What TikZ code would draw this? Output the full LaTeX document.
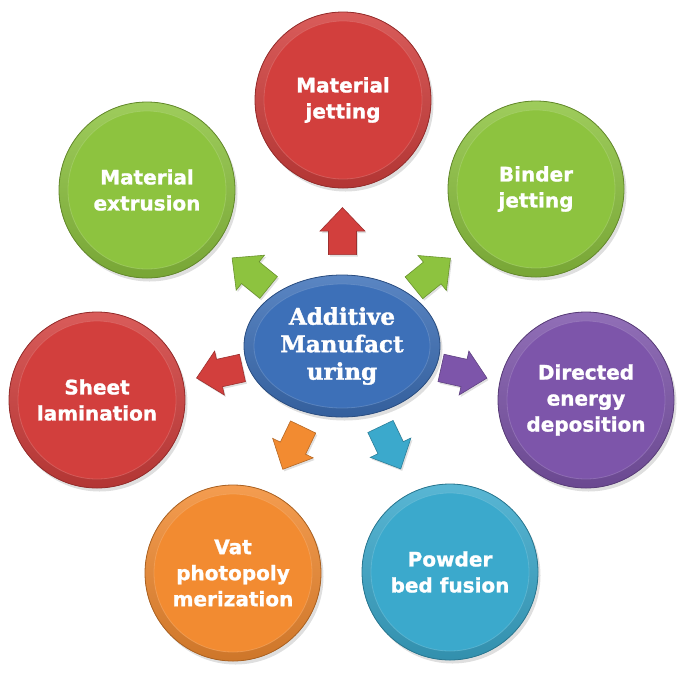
\documentclass[tikz,border=0pt]{standalone}
\usepackage{fontspec}
\newfontfamily\btnfont{DejaVu Sans}[BoldFeatures={FakeBold=1.2}]
\newfontfamily\ctrfont{DejaVu Serif}[BoldFeatures={FakeBold=1.5}]
\usetikzlibrary{shapes.geometric,shadows,calc}
\definecolor{cred}{HTML}{D23F3D}
\definecolor{cgreen}{HTML}{8DC33F}
\definecolor{cpurple}{HTML}{7D55AA}
\definecolor{cblue}{HTML}{3BA9CC}
\definecolor{corange}{HTML}{F28B31}
\definecolor{cnavy}{HTML}{3D70B8}
\tikzset{
  btn/.style={circle, minimum size=176pt, inner sep=0pt, align=center, text=white,
    font=\btnfont\bfseries\fontsize{20}{26}\selectfont,
    fill=#1!85!black, draw=#1!70!black, line width=0.8pt,
    drop shadow={opacity=0.25, shadow xshift=2.5pt, shadow yshift=-3.5pt},
    path picture={
      \shade[top color=#1!85!white, bottom color=#1!85!black]
        (path picture bounding box.center) circle (88pt);
      \fill[#1] (path picture bounding box.center) circle (79pt);
      \draw[#1!70!white, opacity=0.5, line width=0.8pt]
        (path picture bounding box.center) circle (79pt);
    }},
  hub/.style={ellipse, minimum width=196pt, minimum height=142pt, inner sep=0pt,
    align=center, text=white,
    font=\ctrfont\bfseries\fontsize{23}{27.5}\selectfont,
    fill=#1!85!black, draw=#1!70!black, line width=0.8pt,
    drop shadow={opacity=0.25, shadow xshift=2.5pt, shadow yshift=-3.5pt},
    path picture={
      \shade[top color=#1!85!white, bottom color=#1!85!black]
        (path picture bounding box.center) ellipse (98pt and 71pt);
      \fill[#1] (path picture bounding box.center) ellipse (88pt and 62pt);
      \draw[#1!70!white, opacity=0.5, line width=0.8pt]
        (path picture bounding box.center) ellipse (88pt and 62pt);
    }},
  pics/barrow/.style={code={
    \filldraw[fill=#1, draw=#1!75!black, line width=0.6pt,
      drop shadow={opacity=0.25, shadow xshift=1.5pt, shadow yshift=-2pt}]
      (-23.5,-14) -- (0,-14) -- (0,-22.5) -- (23.5,0) -- (0,22.5) -- (0,14)
      -- (-23.5,14) -- cycle;
  }},
}
\begin{document}
\begin{tikzpicture}[x=1pt, y=-1pt]
\useasboundingbox (0,0) rectangle (685,673);
\node[hub=cnavy] (am) at (342,346) {Additive\\Manufact\\uring};
\node[btn=cred]    (mj)  at (343,100) {Material\\jetting};
\node[btn=cgreen]  (bj)  at (536,189) {Binder\\jetting};
\node[btn=cgreen]  (me)  at (147,190) {Material\\extrusion};
\node[btn=cred]    (sl)  at (97,400)  {Sheet\\lamination};
\node[btn=cpurple] (de)  at (586,400) {Directed\\energy\\deposition};
\node[btn=corange] (vat) at (233,573) {Vat\\photopoly\\merization};
\node[btn=cblue]   (pbf) at (450,572) {Powder\\bed fusion};
\pic[rotate=90]    at ($(am)!0.467!(mj)$)  {barrow=cred};
\pic[rotate=39]    at ($(am)!0.465!(bj)$)  {barrow=cgreen};
\pic[rotate=141]   at ($(am)!0.47!(me)$)   {barrow=cgreen};
\pic[rotate=192.4] at ($(am)!0.5!(sl)$)    {barrow=cred};
\pic[rotate=-12.5] at ($(am)!0.5!(de)$)    {barrow=cpurple};
\pic[rotate=244.3] at ($(am)!0.45!(vat)$)  {barrow=corange};
\pic[rotate=295.5] at ($(am)!0.45!(pbf)$)  {barrow=cblue};
\end{tikzpicture}
\end{document}
